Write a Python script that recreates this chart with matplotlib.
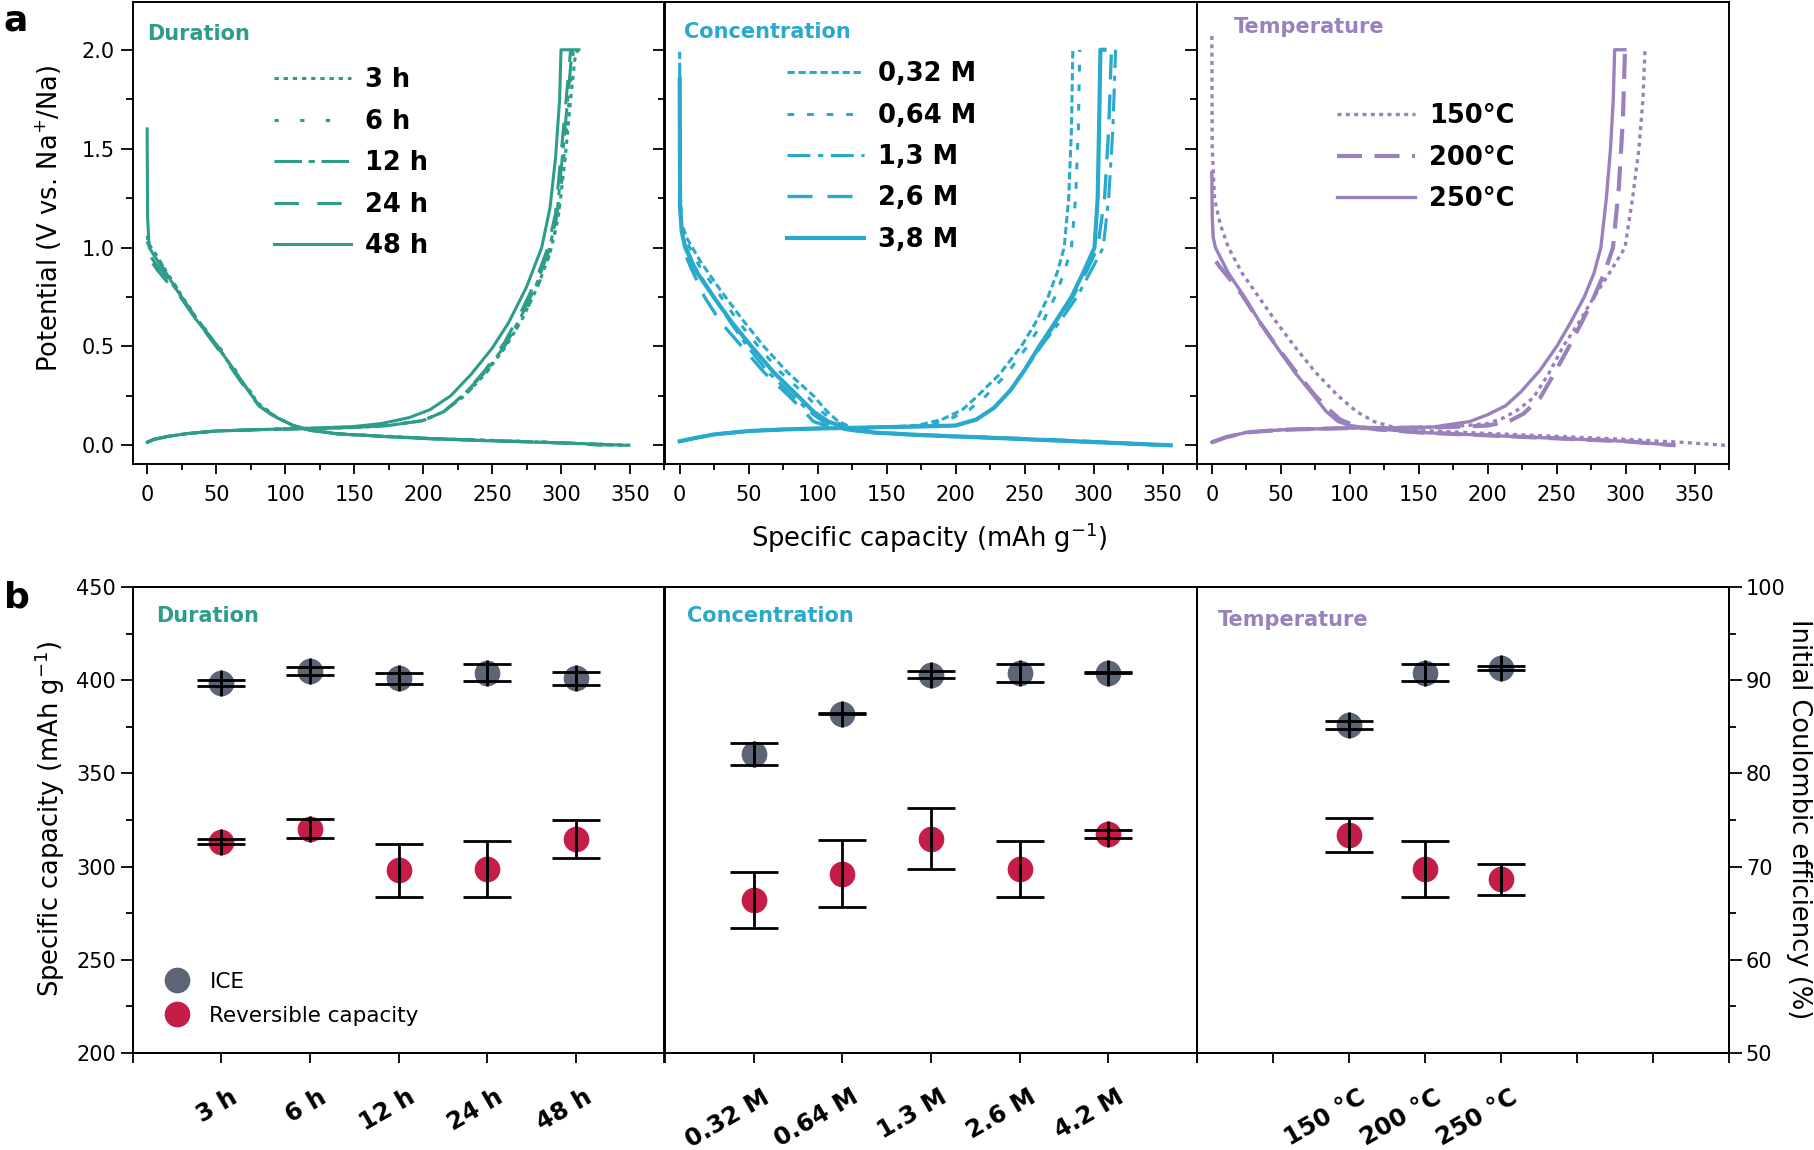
import matplotlib
matplotlib.use('Agg')
import matplotlib.pyplot as plt
import matplotlib.transforms as mtransforms
from matplotlib.ticker import MultipleLocator

plt.rcParams['font.family'] = ['DejaVu Sans']
plt.rcParams['axes.linewidth'] = 1.4

TEAL = '#2e9c8a'
CYAN = '#29a9cc'
PURPLE = '#9a80bd'
GRAY = '#5c6475'
RED = '#c41e48'

# ---------------- (a) charge/discharge curves ----------------
dur_labels = ['3 h', '6 h', '12 h', '24 h', '48 h']
dur_dis_q = [
    [0, 0.5, 2, 6, 12, 22, 35, 51, 60, 69, 81, 94, 106, 119, 138, 170, 207, 250, 300, 351],
    [0, 0.5, 2, 6, 12, 22, 35, 51, 60, 69, 81, 94, 106, 119, 138, 170, 207, 250, 300, 345],
    [3, 6, 12, 22, 35, 51, 60, 69, 81, 94, 106, 119, 138, 170, 207, 250, 300, 338],
    [4, 8, 14, 23, 35, 51, 60, 69, 81, 94, 106, 119, 138, 170, 207, 250, 300, 330],
    [0, 0.3, 1.5, 5, 12, 22, 35, 51, 60, 69, 81, 94, 106, 119, 138, 170, 207, 250, 300, 348],
]
dur_dis_v = [
    [1.06, 1.04, 1.01, 0.97, 0.90, 0.79, 0.65, 0.50, 0.41, 0.32, 0.21, 0.14, 0.10, 0.076, 0.058, 0.046, 0.034, 0.024, 0.013, 0.0],
    [1.03, 1.02, 1.00, 0.96, 0.90, 0.79, 0.65, 0.51, 0.42, 0.33, 0.21, 0.14, 0.10, 0.077, 0.059, 0.047, 0.035, 0.025, 0.014, 0.0],
    [0.95, 0.92, 0.87, 0.78, 0.65, 0.50, 0.41, 0.32, 0.20, 0.14, 0.10, 0.075, 0.058, 0.046, 0.034, 0.024, 0.012, 0.0],
    [0.92, 0.88, 0.83, 0.76, 0.64, 0.49, 0.40, 0.31, 0.20, 0.135, 0.098, 0.074, 0.057, 0.045, 0.033, 0.023, 0.012, 0.0],
    [1.60, 1.15, 1.00, 0.96, 0.89, 0.78, 0.64, 0.50, 0.41, 0.32, 0.20, 0.14, 0.10, 0.075, 0.058, 0.045, 0.032, 0.022, 0.012, 0.0],
]
dur_chg_q = [
    [0, 5, 15, 30, 50, 75, 100, 125, 150, 175, 200, 215, 230, 245, 260, 272, 283, 292, 298, 303, 307, 310, 312],
    [0, 5, 15, 30, 50, 75, 100, 125, 150, 175, 200, 215, 230, 245, 260, 272, 283, 292, 298, 302, 306, 309],
    [0, 5, 15, 30, 50, 75, 100, 125, 150, 175, 200, 215, 230, 245, 260, 271, 282, 291, 297, 301, 305, 308],
    [0, 5, 15, 30, 50, 75, 100, 125, 150, 175, 200, 215, 230, 245, 259, 270, 281, 290, 296, 300, 304, 307],
    [0, 5, 15, 30, 50, 75, 100, 125, 150, 170, 190, 205, 220, 235, 250, 262, 275, 286, 292, 296, 299, 300, 313],
]
dur_chg_v = [
    [0.015, 0.03, 0.045, 0.06, 0.072, 0.078, 0.082, 0.086, 0.09, 0.10, 0.125, 0.17, 0.25, 0.36, 0.50, 0.64, 0.80, 0.97, 1.15, 1.45, 1.75, 1.95, 2.0],
    [0.015, 0.03, 0.045, 0.06, 0.072, 0.078, 0.082, 0.086, 0.09, 0.10, 0.125, 0.17, 0.25, 0.36, 0.50, 0.64, 0.80, 0.97, 1.15, 1.45, 1.75, 2.0],
    [0.015, 0.03, 0.045, 0.06, 0.072, 0.078, 0.082, 0.086, 0.09, 0.10, 0.125, 0.17, 0.26, 0.37, 0.51, 0.65, 0.81, 0.98, 1.16, 1.46, 1.76, 2.0],
    [0.015, 0.03, 0.045, 0.06, 0.072, 0.078, 0.082, 0.086, 0.09, 0.10, 0.125, 0.17, 0.26, 0.38, 0.52, 0.66, 0.82, 0.99, 1.17, 1.47, 1.77, 2.0],
    [0.015, 0.03, 0.045, 0.06, 0.072, 0.078, 0.083, 0.088, 0.095, 0.11, 0.14, 0.18, 0.25, 0.36, 0.49, 0.62, 0.80, 1.0, 1.2, 1.45, 1.75, 2.0, 2.0],
]

conc_labels = ['0,32 M', '0,64 M', '1,3 M', '2,6 M', '3,8 M']
conc_dis_q = [
    [0, 0.3, 1.5, 5, 15, 30, 45, 61, 78, 97, 107, 115, 125, 141, 180, 219, 260, 300, 345],
    [0, 0.3, 1.5, 5, 14, 28, 42, 57, 73, 92, 103, 112, 123, 141, 180, 219, 260, 300, 340],
    [0, 0.3, 1.5, 4, 12, 24, 36, 49, 64, 82, 94, 104, 118, 141, 180, 219, 260, 300, 350],
    [5, 8, 12, 18, 30, 45, 61, 79, 89, 97, 110, 130, 160, 200, 240, 280, 320, 352],
    [0, 0.3, 1.5, 4, 12, 24.6, 38, 52, 68, 85.6, 97, 107.6, 120, 141, 180, 219, 260, 297, 356],
]
conc_dis_v = [
    [1.99, 1.3, 1.12, 1.05, 0.93, 0.78, 0.64, 0.50, 0.37, 0.25, 0.17, 0.12, 0.09, 0.064, 0.05, 0.04, 0.028, 0.017, 0.0],
    [1.90, 1.25, 1.10, 1.03, 0.91, 0.77, 0.63, 0.50, 0.37, 0.25, 0.17, 0.12, 0.09, 0.064, 0.05, 0.04, 0.028, 0.017, 0.0],
    [1.70, 1.2, 1.08, 1.01, 0.89, 0.76, 0.63, 0.50, 0.37, 0.25, 0.17, 0.12, 0.085, 0.062, 0.048, 0.038, 0.027, 0.016, 0.0],
    [0.95, 0.90, 0.84, 0.75, 0.62, 0.50, 0.37, 0.25, 0.18, 0.12, 0.09, 0.07, 0.058, 0.046, 0.036, 0.025, 0.012, 0.0],
    [1.85, 1.2, 1.08, 1.0, 0.88, 0.75, 0.62, 0.50, 0.37, 0.25, 0.17, 0.12, 0.09, 0.064, 0.05, 0.04, 0.028, 0.017, 0.0],
]
conc_chg_q = [
    [0, 10, 25, 50, 75, 100, 125, 150, 172, 190, 205, 216, 232, 247.6, 258, 267, 274, 278.7, 282, 284, 285],
    [0, 10, 25, 50, 75, 100, 125, 150, 178, 195, 210, 222, 237, 252, 263, 272, 279, 284, 287, 289, 290],
    [0, 10, 25, 50, 75, 100, 125, 150, 175, 200, 215, 228, 240, 250, 262, 275, 288, 298, 307, 311, 314, 316],
    [0, 10, 25, 50, 75, 100, 125, 150, 175, 200, 215, 228, 240, 250, 261, 273, 285, 295, 303, 308, 311, 313],
    [0, 10, 25, 50, 75, 100, 125, 150, 175, 200, 215, 228, 240, 250, 260.6, 272, 284, 293, 300.7, 303, 304, 305, 308],
]
conc_chg_v = [
    [0.02, 0.035, 0.055, 0.072, 0.08, 0.085, 0.088, 0.092, 0.10, 0.13, 0.18, 0.25, 0.36, 0.50, 0.62, 0.75, 0.88, 1.0, 1.25, 1.6, 2.0],
    [0.02, 0.035, 0.055, 0.072, 0.08, 0.085, 0.088, 0.092, 0.10, 0.13, 0.18, 0.25, 0.36, 0.50, 0.62, 0.75, 0.88, 1.0, 1.25, 1.6, 2.0],
    [0.02, 0.035, 0.055, 0.072, 0.08, 0.085, 0.088, 0.092, 0.095, 0.10, 0.13, 0.19, 0.28, 0.38, 0.50, 0.62, 0.75, 0.88, 1.0, 1.25, 1.6, 2.0],
    [0.02, 0.035, 0.055, 0.072, 0.08, 0.085, 0.088, 0.092, 0.095, 0.10, 0.13, 0.19, 0.28, 0.38, 0.50, 0.62, 0.75, 0.88, 1.0, 1.25, 1.6, 2.0],
    [0.02, 0.035, 0.055, 0.072, 0.08, 0.085, 0.088, 0.092, 0.095, 0.10, 0.13, 0.19, 0.28, 0.38, 0.50, 0.62, 0.75, 0.88, 1.0, 1.25, 1.6, 2.0, 2.0],
]

temp_labels = ['150°C', '200°C', '250°C']
temp_dis_q = [
    [0, 0.3, 2, 6, 12, 22, 34, 46, 60, 75, 91.5, 105, 117.5, 135, 150, 200, 250, 300, 340, 372],
    [3, 6, 12, 22, 34, 47, 60, 75, 85, 93, 105, 120, 150, 200, 250, 300, 336],
    [0, 0.3, 1, 2.6, 12, 23.7, 35, 46.8, 60, 74, 83, 91.5, 100, 110, 125, 150, 200, 250, 300, 335],
]
temp_dis_v = [
    [2.07, 1.5, 1.245, 1.12, 1.0, 0.87, 0.75, 0.63, 0.50, 0.37, 0.25, 0.17, 0.12, 0.085, 0.075, 0.06, 0.045, 0.03, 0.015, 0.0],
    [0.93, 0.90, 0.85, 0.76, 0.63, 0.50, 0.38, 0.25, 0.18, 0.13, 0.095, 0.08, 0.065, 0.05, 0.035, 0.02, 0.0],
    [1.38, 1.15, 1.05, 1.0, 0.87, 0.75, 0.62, 0.50, 0.37, 0.25, 0.17, 0.12, 0.10, 0.09, 0.08, 0.065, 0.05, 0.035, 0.02, 0.0],
]
temp_chg_q = [
    [0, 10, 25, 50, 75, 100, 130, 160, 185, 200, 212, 222, 233, 244, 254.7, 266, 277, 289, 299.5, 305, 309.6, 312.5, 314],
    [0, 10, 25, 50, 75, 100, 130, 160, 185, 200, 215, 226, 238, 248, 259, 268, 277, 285, 290.8, 295, 298, 299.5],
    [0, 10, 25, 50, 75, 100, 130, 160, 187, 200, 213, 224, 238, 250, 260, 270, 277, 282, 286, 289, 291, 292, 299.5],
]
temp_chg_v = [
    [0.015, 0.04, 0.065, 0.078, 0.083, 0.087, 0.088, 0.092, 0.10, 0.11, 0.14, 0.18, 0.24, 0.36, 0.50, 0.62, 0.75, 0.88, 1.0, 1.25, 1.5, 1.75, 2.0],
    [0.015, 0.04, 0.065, 0.078, 0.083, 0.087, 0.088, 0.09, 0.095, 0.10, 0.12, 0.16, 0.24, 0.36, 0.50, 0.62, 0.75, 0.88, 1.0, 1.3, 1.65, 2.0],
    [0.015, 0.04, 0.065, 0.078, 0.083, 0.087, 0.088, 0.092, 0.12, 0.155, 0.20, 0.27, 0.38, 0.50, 0.62, 0.75, 0.87, 1.0, 1.25, 1.5, 1.75, 2.0, 2.0],
]

# ---------------- (b) capacity / ICE statistics ----------------
dur_cats = ['3 h', '6 h', '12 h', '24 h', '48 h']
dur_rev = [313.4, 320.4, 298.0, 298.8, 315.0]
dur_rev_err = [1.5, 5.0, 14.2, 15.0, 10.2]
dur_ice = [89.7, 91.0, 90.2, 90.8, 90.2]
dur_ice_err = [0.36, 0.4, 0.63, 0.93, 0.69]

conc_cats = ['0.32 M', '0.64 M', '1.3 M', '2.6 M', '4.2 M']
conc_rev = [282.0, 296.2, 315.0, 298.8, 317.4]
conc_rev_err = [15.0, 18.0, 16.2, 15.0, 2.1]
conc_ice = [82.1, 86.4, 90.6, 90.8, 90.8]
conc_ice_err = [1.17, 0.05, 0.37, 0.95, 0.05]

temp_cats = ['150 °C', '200 °C', '250 °C']
temp_rev = [317.0, 298.8, 293.1]
temp_rev_err = [9.2, 15.0, 8.1]
temp_ice = [85.2, 90.8, 91.3]
temp_ice_err = [0.4, 0.93, 0.2]


fig = plt.figure(figsize=(18.15, 11.5), dpi=100)
lefts = [0.0731, 0.3665, 0.6597]
W = 0.2930

top = [fig.add_axes([l, 0.5963, W, 0.4022]) for l in lefts]
bot = [fig.add_axes([l, 0.0844, W, 0.4051]) for l in lefts]

# ---- top row ----
for i, ax in enumerate(top):
    ax.set_xlim(-10.5, 375)
    ax.set_ylim(-0.096, 2.243)
    ax.xaxis.set_major_locator(MultipleLocator(50))
    ax.xaxis.set_minor_locator(MultipleLocator(25))
    ax.yaxis.set_major_locator(MultipleLocator(0.5))
    ax.yaxis.set_minor_locator(MultipleLocator(0.25))
    ax.tick_params(which='both', direction='out', top=False, right=False,
                   labelsize=15, width=1.3)
    ax.tick_params(axis='x', which='major', length=7, pad=8)
    ax.tick_params(axis='x', which='minor', length=4)
    ax.tick_params(axis='y', which='major', length=9, pad=4)
    ax.tick_params(axis='y', which='minor', length=5)
    if i == 0:
        ax.yaxis.set_major_formatter('{x:.1f}')
    else:
        ax.tick_params(labelleft=False)


def draw_curves(ax, labels, dq, dv, cq, cv, color, styles, widths):
    handles = []
    for k in range(len(labels)):
        h, = ax.plot(dq[k], dv[k], color=color, ls=styles[k], lw=widths[k], label=labels[k])
        ax.plot(cq[k], cv[k], color=color, ls=styles[k], lw=widths[k])
        handles.append(h)
    return handles


dur_styles = [(0, (1.4, 1.6)), (0, (1.4, 7)), (0, (9, 2.2, 2, 2.2)), (0, (8, 6)), '-']
conc_styles = [(0, (2.4, 1.2)), (0, (2.2, 4.2)), (0, (7.5, 2.5, 1.7, 2.5)), (0, (7.5, 4.5)), '-']
temp_styles = [(0, (1.2, 1.3)), (0, (6, 3)), '-']

h1 = draw_curves(top[0], dur_labels, dur_dis_q, dur_dis_v, dur_chg_q, dur_chg_v,
                 TEAL, dur_styles, [2.2] * 5)
h2 = draw_curves(top[1], conc_labels, conc_dis_q, conc_dis_v, conc_chg_q, conc_chg_v,
                 CYAN, conc_styles, [2.2, 2.2, 2.2, 2.4, 3.0])
h3 = draw_curves(top[2], temp_labels, temp_dis_q, temp_dis_v, temp_chg_q, temp_chg_v,
                 PURPLE, temp_styles, [2.4, 3.0, 2.4])

leg_kw = dict(loc='center left', bbox_transform=fig.transFigure, frameon=False,
              prop={'size': 18.5, 'weight': 'bold'}, handlelength=3.0,
              handletextpad=0.55, labelspacing=0.6, borderpad=0, borderaxespad=0)
top[0].legend(handles=h1, bbox_to_anchor=(0.151, 0.858), **leg_kw)
top[1].legend(handles=h2, bbox_to_anchor=(0.4335, 0.8635), **leg_kw)
top[2].legend(handles=h3, bbox_to_anchor=(0.7369, 0.863), **leg_kw)

fig.text(0.0812, 0.9654, 'Duration', color=TEAL, fontsize=15, fontweight='bold')
fig.text(0.377, 0.9668, 'Concentration', color=CYAN, fontsize=15, fontweight='bold')
fig.text(0.680, 0.9711, 'Temperature', color=PURPLE, fontsize=15, fontweight='bold')

fig.text(0.027, 0.8104, 'Potential (V vs. Na$^{+}$/Na)', rotation=90,
         ha='center', va='center', fontsize=18.5)
fig.text(0.512, 0.532, 'Specific capacity (mAh g$^{-1}$)', ha='center', va='center',
         fontsize=18.5)

# ---- bottom row ----
groups = [
    (dur_cats, dur_rev, dur_rev_err, dur_ice, dur_ice_err, 1, 'Duration', TEAL, 0.086),
    (conc_cats, conc_rev, conc_rev_err, conc_ice, conc_ice_err, 1, 'Concentration', CYAN, 0.3784),
    (temp_cats, temp_rev, temp_rev_err, temp_ice, temp_ice_err, 2, 'Temperature', PURPLE, 0.671),
]
offset = mtransforms.ScaledTranslation(0.2, 0, fig.dpi_scale_trans)
err_kw = dict(fmt='none', ecolor='black', elinewidth=2, capsize=17, capthick=2, zorder=3)

for i, (ax, g) in enumerate(zip(bot, groups)):
    cats, rev, rev_err, ice, ice_err, pad, title, col, tx = g
    tw = ax.twinx()
    n = len(cats)
    x = list(range(n))
    ax.set_xlim(-pad, n - 1 + pad + (1 if pad == 2 else 0))
    ax.set_ylim(200, 450)
    tw.set_ylim(50, 100)

    hr, = ax.plot(x, rev, 'o', ms=18.5, color=RED, mec='none', zorder=2)
    ax.errorbar(x, rev, yerr=rev_err, **err_kw)
    ax.plot(x, rev, '|', ms=19, mew=2, color='black', zorder=3)
    hi, = tw.plot(x, ice, 'o', ms=18.5, color=GRAY, mec='none', zorder=2)
    tw.errorbar(x, ice, yerr=ice_err, **err_kw)
    tw.plot(x, ice, '|', ms=19, mew=2, color='black', zorder=3)

    lo, hi_x = ax.get_xlim()
    ticks = list(range(int(lo), int(hi_x) + 1))
    labels = [cats[t] if 0 <= t < n else '' for t in ticks]
    ax.tick_params(axis='x', direction='out', length=7, width=1.3, pad=16, top=False)
    ax.set_xticks(ticks, labels, rotation=30, ha='right', fontsize=17.5, fontweight='bold')

    ax.yaxis.set_major_locator(MultipleLocator(50))
    ax.yaxis.set_minor_locator(MultipleLocator(25))
    tw.yaxis.set_major_locator(MultipleLocator(10))
    tw.yaxis.set_minor_locator(MultipleLocator(5))
    ax.tick_params(axis='y', which='major', direction='out', length=9, width=1.3, labelsize=15, pad=3)
    ax.tick_params(axis='y', which='minor', direction='out', length=5, width=1.3)
    tw.tick_params(axis='y', which='major', direction='out', length=9, width=1.3, labelsize=15, pad=3)
    tw.tick_params(axis='y', which='minor', direction='out', length=5, width=1.3)
    if i > 0:
        ax.tick_params(axis='y', which='both', left=False, labelleft=False)
    if i < 2:
        tw.tick_params(axis='y', which='both', right=False, labelright=False)

    # shift the rotated category labels so their ends sit just right of the tick
    for lab in ax.get_xticklabels():
        lab.set_transform(lab.get_transform() + offset)

    fig.text(tx, 0.4591 if i < 2 else 0.4558, title, color=col, fontsize=15, fontweight='bold')

    if i == 0:
        ax.legend([hi, hr], ['ICE', 'Reversible capacity'], loc='center left',
                  bbox_to_anchor=(0.0887, 0.1315), bbox_transform=fig.transFigure,
                  frameon=False, fontsize=15.5, handlelength=1.5, handletextpad=0.75,
                  labelspacing=0.65, borderpad=0, borderaxespad=0, numpoints=1)

fig.text(0.0274, 0.288, 'Specific capacity (mAh g$^{-1}$)', rotation=90,
         ha='center', va='center', fontsize=18.5)
fig.text(0.991, 0.288, 'Initial Coulombic efficiency (%)', rotation=270,
         ha='center', va='center', fontsize=18.5)

fig.text(0.002, 0.982, 'a', fontsize=26, fontweight='bold', va='center')
fig.text(0.002, 0.480, 'b', fontsize=26, fontweight='bold', va='center')

fig.savefig('out.png', dpi=100)
